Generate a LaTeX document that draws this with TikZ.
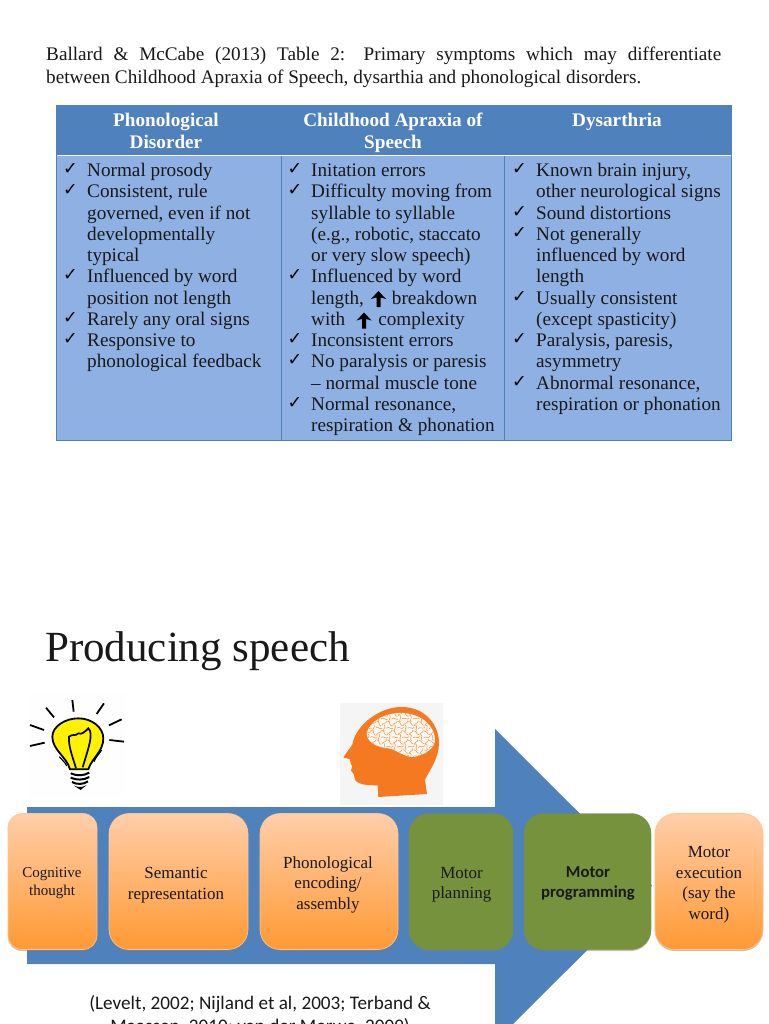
\documentclass[tikz,border=0pt]{standalone}
\usepackage{fontspec}
\setmainfont{Liberation Serif}
\newfontfamily\calfont{Carlito}
\newfontfamily\chkfont{DejaVu Sans}
\usepackage{tikz}
\usetikzlibrary{calc,positioning,shadows}

\definecolor{headblue}{HTML}{4F81BD}
\definecolor{cellblue}{HTML}{8FB0E3}
\definecolor{boxgreen}{HTML}{76923C}
\definecolor{headorange}{HTML}{F47920}
\definecolor{bulbyellow}{HTML}{FFF200}

\tikzset{
  celltext/.style={anchor=base west,inner sep=0pt,font=\fontsize{19.2}{21}\selectfont,text=black!90},
  headtext/.style={anchor=base,align=center,inner sep=0pt,text=white,font=\fontsize{19.2}{21.5}\selectfont\bfseries},
  chk/.style={inner sep=0pt,font=\fontsize{17.5}{18}\chkfont},
  stepbox/.style={rounded corners=20pt,minimum height=136pt,
    drop shadow={shadow xshift=0pt,shadow yshift=-1.5pt,opacity=.5}},
  orangebox/.style={stepbox,draw=orange!45,line width=.6pt,top color=orange!30!white!95!red,
    middle color=orange!55!white,bottom color=orange!80!white},
  greenbox/.style={stepbox,draw=boxgreen,fill=boxgreen},
  steptext/.style={align=center,inner sep=0pt,text=black!90,font=\fontsize{17}{20.5}\selectfont},
}

\begin{document}
\begin{tikzpicture}[x=1pt,y=-1pt]
\clip (0,0) rectangle (768,1024);
\fill[white] (0,0) rectangle (768,1024);

% caption
\node[anchor=north west,inner sep=0pt,text width=675pt,align=justify,text=black!90,
  font=\fontsize{19.2}{23}\selectfont] (caption) at (46,47) {Ballard \& McCabe (2013) Table 2: Primary symptoms which may differentiate\linebreak between Childhood Apraxia of Speech, dysarthia and phonological disorders.};

% table
\fill[cellblue] (56,105) rectangle (731,440);
\fill[headblue] (56,105) rectangle (731,155);
\draw[white,line width=1.6pt] (56,155.5) -- (731,155.5);
\draw[headblue,line width=.8pt] (56,105) rectangle (731,440);
\draw[headblue,line width=.8pt] (281,156) -- (281,440);
\draw[headblue,line width=.8pt] (504.5,156) -- (504.5,440);

\node[headtext] (headPhon) at (166,148.5) {Phonological\\Disorder};
\node[headtext] (headCas) at (393,148.5) {Childhood Apraxia of\\Speech};
\node[headtext] (headDys) at (617,127) {Dysarthria};

\foreach \n/\t in {0/Normal prosody,1/{Consistent, rule},2/{governed, even if not},3/developmentally,
  4/typical,5/Influenced by word,6/position not length,7/Rarely any oral signs,8/Responsive to,9/phonological feedback}
  \node[celltext] (phon\n) at (87,{176.6+21.25*\n}) {\t};
\foreach \n/\t in {0/Initation errors,1/Difficulty moving from,2/syllable to syllable,3/{(e.g., robotic, staccato},
  4/or very slow speech),5/Influenced by word,6/{length,\hspace{28pt}breakdown},7/{with\hspace{33pt}complexity},
  8/Inconsistent errors,9/No paralysis or paresis,10/– normal muscle tone,11/{Normal resonance,},12/{respiration \& phonation}}
  \node[celltext] (cas\n) at (311,{176.6+21.25*\n}) {\t};
\foreach \n/\t in {0/{Known brain injury,},1/other neurological signs,2/Sound distortions,3/Not generally,
  4/influenced by word,5/length,6/Usually consistent,7/(except spasticity),8/{Paralysis, paresis,},9/asymmetry,
  10/{Abnormal resonance,},11/respiration or phonation}
  \node[celltext] (dys\n) at (536,{176.6+21.25*\n}) {\t};

\foreach \n in {0,1,5,7,8}
  \node[chk] (chkA\n) at (70.5,{169+21.25*\n}) {✓};
\foreach \n in {0,1,5,8,9,11}
  \node[chk] (chkB\n) at (295,{169+21.25*\n}) {✓};
\foreach \n in {0,2,3,6,8,10}
  \node[chk] (chkC\n) at (519.5,{169+21.25*\n}) {✓};

% up arrows in the middle column
\foreach \x/\y in {378.5/299,364/320.5}
  \fill[black,shift={(\x,\y)}] (0,-8) -- (7.5,0) -- (2,-1.5) -- (2,8) -- (-2,8) -- (-2,-1.5) -- (-7.5,0) -- cycle;

% title
\node[anchor=base west,inner sep=0pt,font=\fontsize{43}{50}\selectfont,text=black!90] (title) at (45,661) {Producing speech};

% big arrow
\fill[headblue] (27,807) -- (495,807) -- (495,729) -- (652,885.5) -- (495,1042) -- (495,964) -- (27,964) -- cycle;

% bulb
\begin{scope}[shift={(20,690)},x=.3333pt,y=-.3333pt]
\fill[black!.5] (21,10) rectangle (318,325);
\draw[line width=1.8pt,black] (157,30) -- (161,65) (78,53) -- (102,82) (252,40) -- (230,72)
  (30,105) -- (72,120) (30,168) -- (74,158) (305,88) -- (267,106) (268,150) -- (312,155);
\draw[fill=bulbyellow,draw=black,line width=1.8pt]
  (150,238) .. controls (140,200) and (97,180) .. (97,140) .. controls (97,110) and (135,85) .. (175,85)
  .. controls (215,85) and (250,112) .. (250,145) .. controls (250,185) and (215,205) .. (205,238) -- cycle;
\draw[line width=1.7pt,black] (168,235) .. controls (158,200) and (145,170) .. (147,140)
  .. controls (160,130) and (165,140) .. (175,130) .. controls (185,135) and (195,125) .. (205,115)
  .. controls (222,130) and (205,175) .. (188,232);
\draw[line width=1.2pt,black] (118,200) .. controls (125,210) and (135,215) .. (140,228)
  (245,180) .. controls (235,195) and (228,200) .. (222,215);
\draw[line width=2pt,black] (152,250) .. controls (170,258) and (190,258) .. (208,248)
  (152,263) .. controls (170,271) and (190,271) .. (208,261)
  (156,276) .. controls (170,284) and (190,284) .. (204,274);
\fill[black] (162,287) .. controls (175,293) and (190,292) .. (200,285) -- (182,300) -- cycle;
\end{scope}

% head with brain
\begin{scope}[shift={(335,698)},x=.3333pt,y=-.3333pt]
\fill[black!4] (15,15) rectangle (325,322);
\fill[headorange] (25,178) -- (52,140) .. controls (60,85) and (130,27) .. (200,27)
  .. controls (270,27) and (312,80) .. (312,135) .. controls (312,180) and (285,215) .. (270,245)
  -- (276,288) -- (130,297) -- (128,262) .. controls (105,262) and (70,262) .. (60,245)
  -- (56,228) -- (48,218) -- (52,205) -- (47,197) -- (45,184) -- cycle;
\begin{scope}
\clip (95,105) .. controls (105,65) and (160,42) .. (205,45)
  .. controls (260,48) and (300,85) .. (300,125) .. controls (300,150) and (270,172) .. (235,177)
  .. controls (205,178) and (180,150) .. (150,150) .. controls (120,145) and (95,130) .. (95,105) -- cycle;
\fill[white!95!orange] (90,40) rectangle (305,180);
\foreach \x in {100,116,...,296}
  \foreach \y in {48,62,...,176}
    \draw[headorange!85!white,line width=.5pt,rotate around={mod(\x*17+\y*29,180):(\x,\y)}]
      (\x-10,\y) .. controls (\x-4,\y-7) and (\x+3,\y+7) .. (\x+10,\y-1);
\end{scope}
\end{scope}

% steps
\node[orangebox,rounded corners=14pt,minimum width=89pt] (cognitive) at (52.5,881.5) {};
\node[orangebox,minimum width=139pt] (semantic) at (178.5,881.5) {};
\node[orangebox,minimum width=138pt] (phonological) at (329,881.5) {};
\node[greenbox,minimum width=104pt] (planning) at (461,881.5) {};
\node[greenbox,minimum width=127pt] (programming) at (587.5,881.5) {};
\node[orangebox,minimum width=108pt] (execution) at (709,881.5) {};

\node[steptext,font=\fontsize{15}{18}\selectfont] (cognitiveText) at (52,883) {Cognitive\\thought};
\node[steptext] (semanticText) at (176,885) {Semantic\\representation};
\node[steptext] (phonologicalText) at (328,884.5) {Phonological\\encoding/\\assembly};
\node[steptext] (planningText) at (461.5,885) {Motor\\planning};
\node[steptext,font=\fontsize{16.7}{20}\calfont\bfseries] (programmingText) at (588,883) {Motor\\programming};
\node[steptext] (executionText) at (709,884.5) {Motor\\execution\\(say the\\word)};

% reference
\node[anchor=base,inner sep=0pt,align=center,text=black!90,font=\fontsize{19.2}{23}\calfont] (levelt) at (260,1032) {(Levelt, 2002; Nijland et al, 2003; Terband \&\\Maassen, 2010; van der Merwe, 2009)};
\end{tikzpicture}
\end{document}
